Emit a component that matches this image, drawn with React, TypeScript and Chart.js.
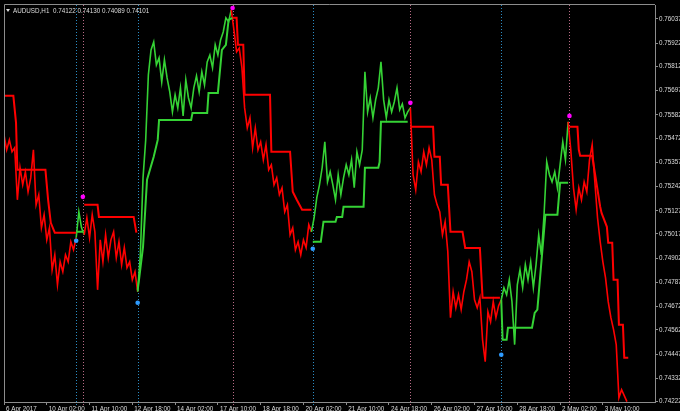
import { useEffect, useRef } from 'react';
import { Chart, registerables } from 'chart.js';

Chart.register(...registerables);

// ---------- data ----------
const SYMBOL_TITLE = 'AUDUSD,H1';
const OHLC_VALUES = ['0.74122', '0.74130', '0.74089', '0.74101'];

const X_TICK_BARS = [0, 32, 64, 96, 128, 160, 192, 224, 256, 288, 320, 352, 384, 416, 448];
const X_TICK_LABELS = [
  '6 Apr 2017', '10 Apr 02:00', '11 Apr 10:00', '12 Apr 18:00', '14 Apr 02:00',
  '17 Apr 10:00', '18 Apr 18:00', '20 Apr 02:00', '21 Apr 10:00', '24 Apr 18:00',
  '26 Apr 02:00', '27 Apr 10:00', '28 Apr 18:00', '2 May 02:00', '3 May 10:00',
];
const Y_TICK_VALUES = [
  0.76037, 0.75922, 0.75812, 0.75697, 0.75582, 0.75472, 0.75357, 0.75242, 0.75127,
  0.75017, 0.74902, 0.74787, 0.74672, 0.74562, 0.74447, 0.74332, 0.74222,
];

// close prices sampled every PRICE_STEP bars (H1)
const PRICE_STEP = 2;
const PRICE = [
  0.75487, 0.75416, 0.75463, 0.75407, 0.75426, 0.75179, 0.75331, 0.75250, 0.75312, 0.75217,
  0.75283, 0.75416, 0.75155, 0.75203, 0.75046, 0.75108, 0.74989, 0.75046, 0.74847, 0.74918,
  0.74776, 0.74885, 0.74838, 0.74918, 0.74885, 0.74980, 0.74942, 0.74999, 0.75122, 0.75046,
  0.75013, 0.75094, 0.74999, 0.75108, 0.75027, 0.74752, 0.74989, 0.74885, 0.75013, 0.74904,
  0.74989, 0.75027, 0.74904, 0.74980, 0.74871, 0.74952, 0.74857, 0.74885, 0.74800, 0.74838,
  0.74743, 0.74918, 0.75283, 0.75463, 0.75772, 0.75890, 0.75928, 0.75819, 0.75852, 0.75738,
  0.75843, 0.75757, 0.75691, 0.75596, 0.75677, 0.75615, 0.75710, 0.75577, 0.75748, 0.75662,
  0.75615, 0.75710, 0.75767, 0.75691, 0.75786, 0.75724, 0.75833, 0.75866, 0.75805, 0.75914,
  0.75866, 0.75937, 0.75975, 0.76042, 0.76023, 0.76080, 0.75985, 0.75881, 0.75899, 0.75805,
  0.75615, 0.75520, 0.75568, 0.75426, 0.75520, 0.75416, 0.75454, 0.75369, 0.75440, 0.75321,
  0.75345, 0.75250, 0.75283, 0.75203, 0.75236, 0.75122, 0.75155, 0.75013, 0.75046, 0.74942,
  0.74980, 0.74918, 0.74989, 0.74952, 0.75061, 0.75027, 0.75094, 0.75189, 0.75250, 0.75331,
  0.75454, 0.75264, 0.75312, 0.75250, 0.75179, 0.75298, 0.75203, 0.75283, 0.75345, 0.75298,
  0.75369, 0.75236, 0.75407, 0.75345, 0.75416, 0.75786, 0.75596, 0.75662, 0.75568, 0.75653,
  0.75710, 0.75833, 0.75653, 0.75568, 0.75653, 0.75596, 0.75644, 0.75710, 0.75606, 0.75634,
  0.75568, 0.75596, 0.75615, 0.75298, 0.75226, 0.75359, 0.75312, 0.75407, 0.75345, 0.75426,
  0.75369, 0.75203, 0.75155, 0.75122, 0.75013, 0.75075, 0.74933, 0.74620, 0.74743, 0.74667,
  0.74729, 0.74658, 0.74743, 0.74800, 0.74885, 0.74838, 0.74705, 0.74667, 0.74714, 0.74515,
  0.74411, 0.74648, 0.74601, 0.74696, 0.74620, 0.74677, 0.74705, 0.74762, 0.74729, 0.74800,
  0.74696, 0.74492, 0.74776, 0.74847, 0.74762, 0.74871, 0.74800, 0.74885, 0.74762, 0.74871,
  0.75013, 0.74918, 0.75108, 0.75359, 0.75298, 0.75264, 0.75312, 0.75236, 0.75345, 0.75454,
  0.75369, 0.75549, 0.75416, 0.75236, 0.75132, 0.75236, 0.75179, 0.75264, 0.75217, 0.75369,
  0.75440, 0.75264, 0.75094, 0.74980, 0.74885, 0.74809, 0.74696, 0.74620, 0.74563, 0.74492,
  0.74240, 0.74278, 0.74250, 0.74222,
];

// uptrend intervals (bar index)
const UP_START = [54, 100, 231, 372];
const UP_END = [60, 171, 304, 423];

// trailing stop line: bar, level, trend (1 = up / green, 0 = down / red)
const STOP_BARS = [
  0, 7, 9, 10, 31, 33, 35, 38, 54,
  54, 59,
  60, 70, 71, 97, 99,
  100, 101, 104, 107, 112, 115, 116, 140, 141, 152, 153, 160, 163, 166, 168, 171,
  171, 174, 175, 179, 180, 199, 200, 214, 216, 219, 223, 230,
  231, 237, 239, 248, 249, 253, 254, 269, 270, 280, 281, 282, 302,
  304, 321, 322, 326, 327, 332, 334, 343, 345, 356, 358, 371,
  372, 373, 376, 377, 395, 397, 399, 405, 414, 416, 422,
  423, 429, 430, 431, 440, 446, 447, 451, 452, 455, 456, 459, 460, 463, 464, 467,
];
const STOP_LEVELS = [
  0.75672, 0.75672, 0.75544, 0.75321, 0.75321, 0.75179, 0.75070, 0.75023, 0.75023,
  0.75027, 0.75027,
  0.75155, 0.75155, 0.75098, 0.75098, 0.75023,
  0.74752, 0.74800, 0.74956, 0.75274, 0.75383, 0.75463, 0.75558, 0.75558, 0.75591, 0.75591, 0.75686, 0.75686, 0.75890, 0.75914, 0.76032, 0.76042,
  0.76042, 0.76042, 0.75914, 0.75914, 0.75677, 0.75677, 0.75407, 0.75407, 0.75217, 0.75179, 0.75132, 0.75132,
  0.74980, 0.74980, 0.75075, 0.75075, 0.75098, 0.75098, 0.75146, 0.75146, 0.75331, 0.75331, 0.75359, 0.75549, 0.75549,
  0.75525, 0.75525, 0.75383, 0.75383, 0.75250, 0.75250, 0.75027, 0.75027, 0.74951, 0.74951, 0.74714, 0.74714,
  0.74705, 0.74515, 0.74515, 0.74572, 0.74572, 0.74643, 0.74658, 0.75108, 0.75108, 0.75260, 0.75260,
  0.75525, 0.75525, 0.75416, 0.75388, 0.75388, 0.75146, 0.75117, 0.75051, 0.74975, 0.74975, 0.74800, 0.74800, 0.74586, 0.74586, 0.74430, 0.74430,
];
const STOP_TREND = [
  0, 0, 0, 0, 0, 0, 0, 0, 0,
  1, 1,
  0, 0, 0, 0, 0,
  1, 1, 1, 1, 1, 1, 1, 1, 1, 1, 1, 1, 1, 1, 1, 1,
  0, 0, 0, 0, 0, 0, 0, 0, 0, 0, 0, 0,
  1, 1, 1, 1, 1, 1, 1, 1, 1, 1, 1, 1, 1,
  0, 0, 0, 0, 0, 0, 0, 0, 0, 0, 0, 0,
  1, 1, 1, 1, 1, 1, 1, 1, 1, 1, 1,
  0, 0, 0, 0, 0, 0, 0, 0, 0, 0, 0, 0, 0, 0, 0, 0,
];

// signal dots
const SELL_BARS = [59, 171, 304, 423];
const SELL_LEVELS = [0.75193, 0.76089, 0.75639, 0.75577];
const BUY_BARS = [54, 100, 231, 372];
const BUY_LEVELS = [0.74985, 0.74691, 0.74947, 0.74444];

// ---------- styles ----------
const RED = '#ff0000';
const GREEN = '#35d235';
const AXIS = '#8c8c8c';
const TEXT = '#dcdcdc';
const FONT_FAMILY = '"Liberation Sans", Arial, sans-serif';
const FONT_SIZE = 6.3;

const isUpBar = (b: number) => UP_START.some((s, k) => b >= s && b < UP_END[k]);

function buildStop(trend: number) {
  const out: { x: number; y: number | null }[] = [];
  for (let i = 0; i < STOP_BARS.length; i++) {
    if (STOP_TREND[i] !== trend) continue;
    if (i > 0 && STOP_TREND[i - 1] !== trend && out.length) {
      out.push({ x: STOP_BARS[i] - 0.5, y: null });
    }
    out.push({ x: STOP_BARS[i], y: STOP_LEVELS[i] });
  }
  return out;
}

const overlayPlugin = {
  id: 'mtOverlay',
  beforeDatasetsDraw(chart: any) {
    const { ctx, chartArea, scales } = chart;
    ctx.save();
    ctx.lineWidth = 1;
    ctx.setLineDash([1, 2]);
    const drawV = (bars: number[], color: string) => {
      ctx.strokeStyle = color;
      bars.forEach((b) => {
        const x = Math.round(scales.x.getPixelForValue(b)) + 0.5;
        ctx.beginPath();
        ctx.moveTo(x, chartArea.top);
        ctx.lineTo(x, chartArea.bottom + 3);
        ctx.stroke();
      });
    };
    drawV(BUY_BARS, '#2b8cc4');
    drawV(SELL_BARS, '#b86a85');
    ctx.restore();
  },
  afterDraw(chart: any) {
    const { ctx, chartArea } = chart;
    ctx.save();
    ctx.strokeStyle = AXIS;
    ctx.lineWidth = 1;
    ctx.beginPath();
    ctx.moveTo(chartArea.left + 0.5, chartArea.bottom);
    ctx.lineTo(chartArea.left + 0.5, chartArea.top - 0.5);
    ctx.lineTo(chartArea.right, chartArea.top - 0.5);
    ctx.stroke();
    // title
    ctx.fillStyle = TEXT;
    ctx.beginPath();
    ctx.moveTo(6, 9);
    ctx.lineTo(10, 9);
    ctx.lineTo(8, 12);
    ctx.closePath();
    ctx.fill();
    ctx.font = `${FONT_SIZE}px ${FONT_FAMILY}`;
    ctx.textBaseline = 'middle';
    ctx.textAlign = 'left';
    ctx.fillText(`${SYMBOL_TITLE}  ${OHLC_VALUES.join(' ')}`, 13, 11);
    ctx.restore();
  },
};

export default function App() {
  const ref = useRef<HTMLCanvasElement | null>(null);

  useEffect(() => {
    document.body.style.margin = '0';
    document.body.style.background = '#000';
    const canvas = ref.current;
    if (!canvas) return;

    const priceData = PRICE.map((v, i) => ({ x: i * PRICE_STEP, y: v }));
    const font = { family: FONT_FAMILY, size: FONT_SIZE };

    const chart = new Chart(canvas, {
      type: 'line',
      data: {
        datasets: [
          {
            data: SELL_BARS.map((b, i) => ({ x: b, y: SELL_LEVELS[i] })),
            showLine: false,
            pointRadius: 2.3,
            pointBackgroundColor: '#ff00ff',
            pointBorderWidth: 0,
            order: 1,
          },
          {
            data: BUY_BARS.map((b, i) => ({ x: b, y: BUY_LEVELS[i] })),
            showLine: false,
            pointRadius: 2.3,
            pointBackgroundColor: '#2e9bff',
            pointBorderWidth: 0,
            order: 1,
          },
          {
            data: buildStop(0),
            borderColor: RED,
            borderWidth: 2,
            pointRadius: 0,
            spanGaps: false,
            order: 2,
          },
          {
            data: buildStop(1),
            borderColor: GREEN,
            borderWidth: 2,
            pointRadius: 0,
            spanGaps: false,
            order: 2,
          },
          {
            data: priceData,
            borderColor: RED,
            borderWidth: 1.6,
            pointRadius: 0,
            order: 3,
            segment: {
              borderColor: (c: any) =>
                isUpBar((c.p0.parsed.x + c.p1.parsed.x) / 2) ? GREEN : RED,
            },
          },
        ] as any,
      },
      options: {
        responsive: false,
        animation: false,
        devicePixelRatio: 1,
        layout: { padding: { left: 3, top: 5, right: 0, bottom: 0 } },
        plugins: { legend: { display: false }, tooltip: { enabled: false }, title: { display: false } },
        elements: { line: { tension: 0 } },
        scales: {
          x: {
            type: 'linear',
            min: 0,
            max: 487,
            afterFit: (s: any) => { s.height = 9; },
            afterBuildTicks: (s: any) => { s.ticks = X_TICK_BARS.map((v) => ({ value: v })); },
            ticks: {
              callback: (_v: any, i: number) => X_TICK_LABELS[i],
              align: 'start',
              labelOffset: 2,
              padding: 0,
              maxRotation: 0,
              autoSkip: false,
              color: TEXT,
              font,
            },
            grid: { display: true, drawOnChartArea: false, drawTicks: true, tickLength: 3, color: AXIS },
            border: { display: true, color: AXIS, width: 1 },
          },
          y: {
            type: 'linear',
            position: 'right',
            min: 0.7422,
            max: 0.76103,
            afterFit: (s: any) => { s.width = 25; },
            afterBuildTicks: (s: any) => { s.ticks = Y_TICK_VALUES.map((v) => ({ value: v })); },
            ticks: {
              callback: (v: any) => Number(v).toFixed(5),
              padding: 1,
              autoSkip: false,
              color: TEXT,
              font,
            },
            grid: { display: true, drawOnChartArea: false, drawTicks: true, tickLength: 3, color: AXIS },
            border: { display: true, color: AXIS, width: 1 },
          },
        },
      } as any,
      plugins: [overlayPlugin],
    });

    return () => chart.destroy();
  }, []);

  return (
    <div style={{ width: 680, height: 411, background: '#000' }}>
      <canvas ref={ref} width={680} height={411} style={{ display: 'block', background: '#000' }} />
    </div>
  );
}
